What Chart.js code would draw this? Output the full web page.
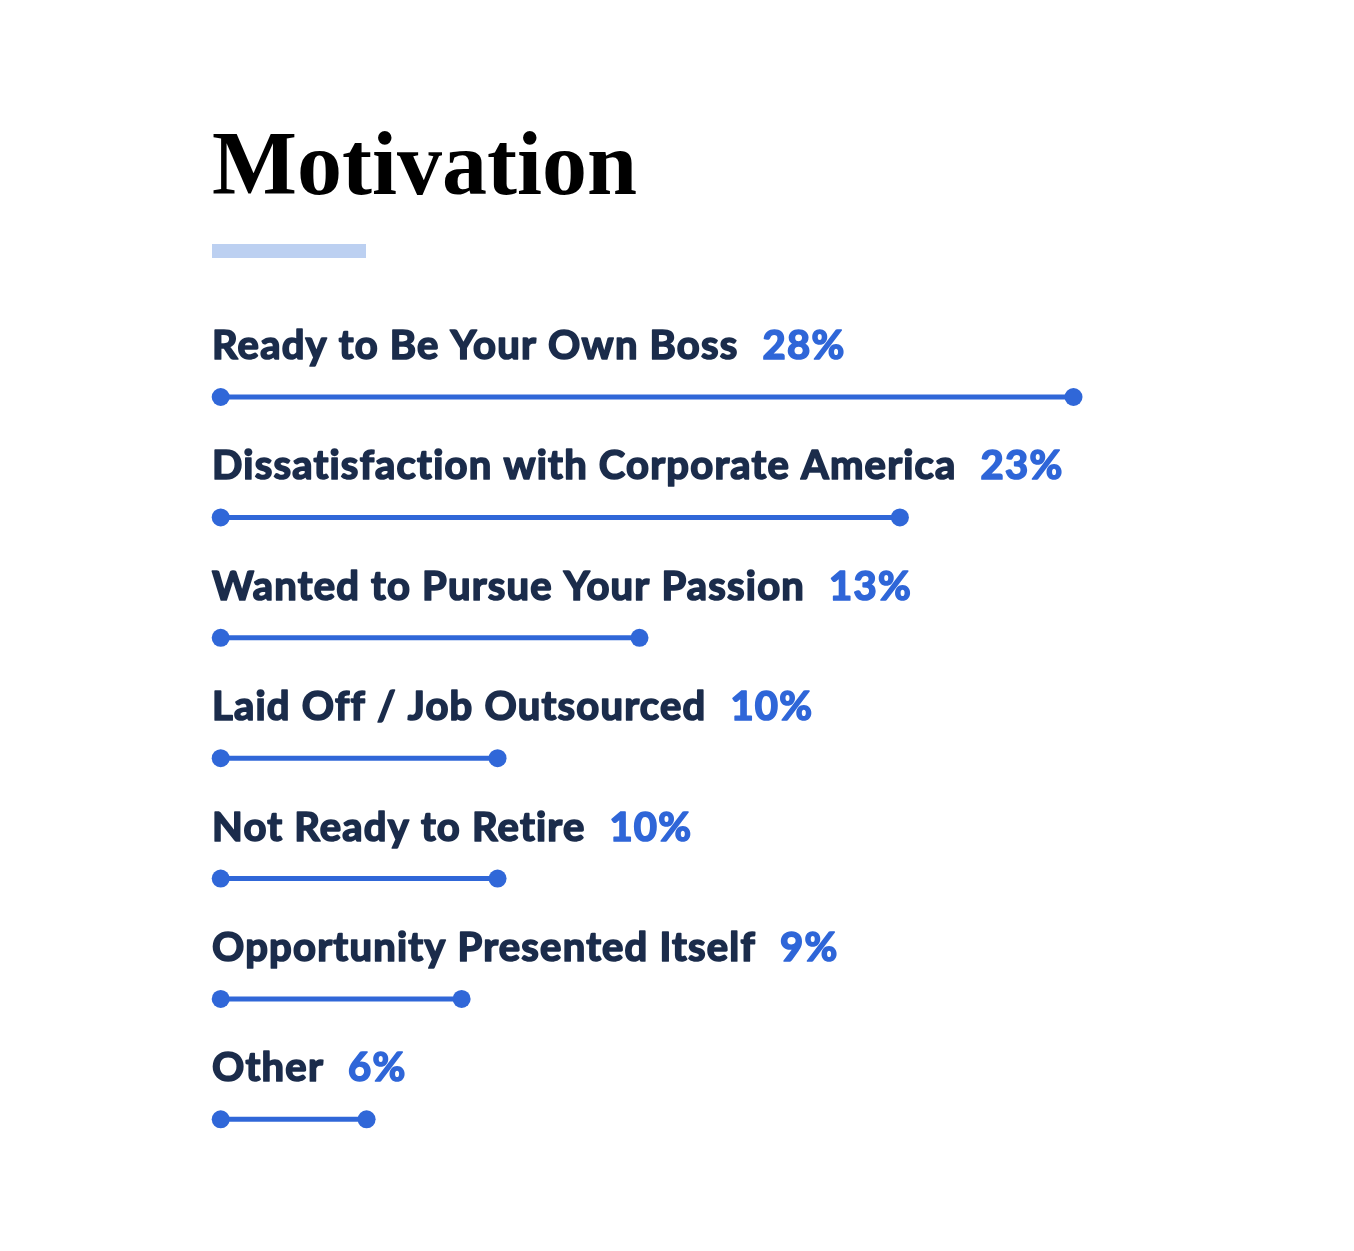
<!DOCTYPE html>
<html><head><meta charset="utf-8">
<script src="https://cdn.jsdelivr.net/npm/chart.js@4/dist/chart.umd.min.js"></script>
<style>html,body{margin:0;padding:0;background:#fff;}#wrap{width:1354px;height:1251px;position:relative;}canvas{display:block;}</style>
</head><body><div id="wrap"><canvas id="c" width="1354" height="1251"></canvas></div>
<script>
const chartTitle = "Motivation";
const categories = [
  "Ready to Be Your Own Boss",
  "Dissatisfaction with Corporate America",
  "Wanted to Pursue Your Passion",
  "Laid Off / Job Outsourced",
  "Not Ready to Retire",
  "Opportunity Presented Itself",
  "Other"
];
const pctLabels = ["28%", "23%", "13%", "10%", "10%", "9%", "6%"];
const barValues = [28, 22.3, 13.75, 9.09, 9.09, 7.91, 4.79];

const LINE = "#3067d8";
const TEXT = "#1b2c4b";
const PCT = "#2f66d8";
const LABEL_FONT = "700 40px Lato";

function boldText(ctx, s, x, y, color) {
  ctx.fillStyle = color;
  ctx.strokeStyle = color;
  ctx.lineWidth = 1.7;
  ctx.lineJoin = "round";
  ctx.fillText(s, x, y);
  ctx.strokeText(s, x, y);
}

const overlay = {
  id: "overlay",
  afterDraw(chart) {
    const ctx = chart.ctx;
    const ys = chart.scales.y;
    ctx.save();
    ctx.textBaseline = "alphabetic";
    ctx.textAlign = "left";
    ctx.fillStyle = "#000";
    ctx.font = "700 90px 'Liberation Serif'";
    ctx.fillText(chartTitle, 212, 194);
    ctx.fillStyle = "#bcd0f1";
    ctx.fillRect(212, 244, 154, 14);
    ctx.font = LABEL_FONT;
    ctx.letterSpacing = "1.2px";
    categories.forEach((c, i) => {
      const y = ys.getPixelForValue(i) - 38;
      boldText(ctx, c, 212, y, TEXT);
      const w = ctx.measureText(c).width;
      boldText(ctx, pctLabels[i], 212 + w + 24, y, PCT);
    });
    ctx.restore();
  }
};

function build() {
  const datasets = barValues.map((v, i) => ({
    label: categories[i],
    data: [{x: 0, y: i}, {x: v, y: i}],
    showLine: true,
    borderColor: LINE,
    borderWidth: 5,
    backgroundColor: LINE,
    pointBackgroundColor: LINE,
    pointBorderColor: LINE,
    pointBorderWidth: 0,
    pointRadius: 9,
    clip: false
  }));

  new Chart(document.getElementById("c"), {
    type: "scatter",
    data: { datasets },
    options: {
      responsive: false,
      devicePixelRatio: 1,
      animation: false,
      layout: { padding: { left: 220.7, right: 280.5, top: 397, bottom: 131.7 } },
      scales: {
        x: { type: "linear", min: 0, max: 28, display: false },
        y: { type: "linear", min: 0, max: 6, reverse: true, display: false }
      },
      plugins: { legend: { display: false }, tooltip: { enabled: false } }
    },
    plugins: [overlay]
  });
}
Promise.all([
  document.fonts.load(LABEL_FONT),
  document.fonts.load("700 90px 'Liberation Serif'")
]).catch(() => {}).then(build);
</script>
</body></html>
